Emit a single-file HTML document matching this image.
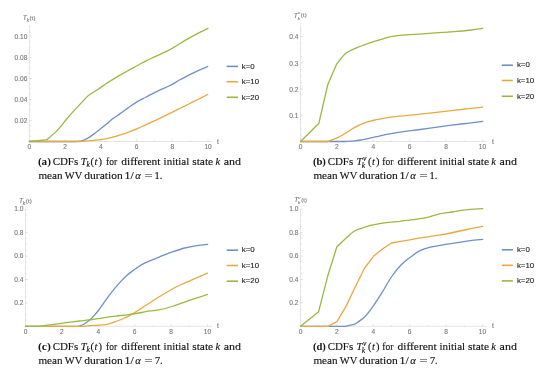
<!DOCTYPE html>
<html><head><meta charset="utf-8"><style>
html,body{margin:0;padding:0;background:#fff;}
svg{display:block;}
.ax{stroke:#d4d4d4;stroke-width:0.6;fill:none;}
.tk{stroke:#d4d4d4;stroke-width:0.6;}
.tl{font-family:"Liberation Sans",sans-serif;font-size:6.6px;fill:#7a7a7a;stroke:#7a7a7a;stroke-width:0.12px;}
.yl{font-family:"Liberation Sans",sans-serif;font-size:6.6px;fill:#7a7a7a;stroke:#7a7a7a;stroke-width:0.12px;}
.lt{font-family:"Liberation Sans",sans-serif;font-size:7.9px;fill:#222;stroke:#222;stroke-width:0.12px;}
.cv{fill:none;stroke-width:1.3;stroke-linejoin:round;stroke-linecap:round;}
.lg{stroke-width:1.6;}
.cp{font-family:"Liberation Serif",serif;font-size:10.5px;fill:#141414;stroke:#141414;stroke-width:0.14px;letter-spacing:0px;}
</style></head><body>
<svg width="550" height="372" viewBox="0 0 550 372">
<line x1="29.4" y1="25.5" x2="29.4" y2="141.5" class="ax"/>
<line x1="29.4" y1="141.5" x2="212" y2="141.5" class="ax"/>
<line x1="29.4" y1="141.5" x2="29.4" y2="139.3" class="tk"/>
<text x="29.4" y="148.7" class="tl" text-anchor="middle">0</text>
<line x1="47.27" y1="141.5" x2="47.27" y2="140.2" class="tk"/>
<line x1="65.14" y1="141.5" x2="65.14" y2="139.3" class="tk"/>
<text x="65.14" y="148.7" class="tl" text-anchor="middle">2</text>
<line x1="83.01" y1="141.5" x2="83.01" y2="140.2" class="tk"/>
<line x1="100.88" y1="141.5" x2="100.88" y2="139.3" class="tk"/>
<text x="100.88" y="148.7" class="tl" text-anchor="middle">4</text>
<line x1="118.75" y1="141.5" x2="118.75" y2="140.2" class="tk"/>
<line x1="136.62" y1="141.5" x2="136.62" y2="139.3" class="tk"/>
<text x="136.62" y="148.7" class="tl" text-anchor="middle">6</text>
<line x1="154.49" y1="141.5" x2="154.49" y2="140.2" class="tk"/>
<line x1="172.36" y1="141.5" x2="172.36" y2="139.3" class="tk"/>
<text x="172.36" y="148.7" class="tl" text-anchor="middle">8</text>
<line x1="190.23" y1="141.5" x2="190.23" y2="140.2" class="tk"/>
<line x1="208.1" y1="141.5" x2="208.1" y2="139.3" class="tk"/>
<text x="208.1" y="148.7" class="tl" text-anchor="middle">10</text>
<line x1="29.4" y1="120.5" x2="31.6" y2="120.5" class="tk"/>
<text x="27.4" y="123.2" class="tl" text-anchor="end">0.02</text>
<line x1="29.4" y1="99.5" x2="31.6" y2="99.5" class="tk"/>
<text x="27.4" y="102.2" class="tl" text-anchor="end">0.04</text>
<line x1="29.4" y1="78.5" x2="31.6" y2="78.5" class="tk"/>
<text x="27.4" y="81.2" class="tl" text-anchor="end">0.06</text>
<line x1="29.4" y1="57.5" x2="31.6" y2="57.5" class="tk"/>
<text x="27.4" y="60.2" class="tl" text-anchor="end">0.08</text>
<line x1="29.4" y1="36.5" x2="31.6" y2="36.5" class="tk"/>
<text x="27.4" y="39.2" class="tl" text-anchor="end">0.10</text>
<line x1="29.4" y1="136.25" x2="30.7" y2="136.25" class="tk"/>
<line x1="29.4" y1="131" x2="30.7" y2="131" class="tk"/>
<line x1="29.4" y1="125.75" x2="30.7" y2="125.75" class="tk"/>
<line x1="29.4" y1="120.5" x2="30.7" y2="120.5" class="tk"/>
<line x1="29.4" y1="115.25" x2="30.7" y2="115.25" class="tk"/>
<line x1="29.4" y1="110" x2="30.7" y2="110" class="tk"/>
<line x1="29.4" y1="104.75" x2="30.7" y2="104.75" class="tk"/>
<line x1="29.4" y1="99.5" x2="30.7" y2="99.5" class="tk"/>
<line x1="29.4" y1="94.25" x2="30.7" y2="94.25" class="tk"/>
<line x1="29.4" y1="89" x2="30.7" y2="89" class="tk"/>
<line x1="29.4" y1="83.75" x2="30.7" y2="83.75" class="tk"/>
<line x1="29.4" y1="78.5" x2="30.7" y2="78.5" class="tk"/>
<line x1="29.4" y1="73.25" x2="30.7" y2="73.25" class="tk"/>
<line x1="29.4" y1="68" x2="30.7" y2="68" class="tk"/>
<line x1="29.4" y1="62.75" x2="30.7" y2="62.75" class="tk"/>
<line x1="29.4" y1="57.5" x2="30.7" y2="57.5" class="tk"/>
<line x1="29.4" y1="52.25" x2="30.7" y2="52.25" class="tk"/>
<line x1="29.4" y1="47" x2="30.7" y2="47" class="tk"/>
<line x1="29.4" y1="41.75" x2="30.7" y2="41.75" class="tk"/>
<line x1="29.4" y1="36.5" x2="30.7" y2="36.5" class="tk"/>
<line x1="29.4" y1="31.25" x2="30.7" y2="31.25" class="tk"/>
<line x1="29.4" y1="26" x2="30.7" y2="26" class="tk"/>
<text x="217" y="143.5" class="tl">t</text>
<text x="22.8" y="20.2" class="yl"><tspan font-style="italic">T</tspan><tspan font-size="4.6" dy="1.6" dx="-0.2" font-style="italic">k</tspan><tspan dy="-1.6" dx="0.5" font-size="6.2" textLength="6.1" lengthAdjust="spacing">(t)</tspan></text>
<path d="M29.4,141.5 L76,141.5 C76.95,141.4 79.63,141.5 81.7,140.9 C83.77,140.3 86.15,139.23 88.4,137.9 C90.65,136.57 93.27,134.33 95.2,132.9 C97.13,131.47 98.12,130.77 100,129.3 C101.88,127.83 104.35,125.88 106.5,124.1 C108.65,122.32 110.75,120.27 112.9,118.6 C115.05,116.93 117.23,115.62 119.4,114.1 C121.57,112.58 124.05,110.82 125.9,109.5 C127.75,108.18 128.67,107.47 130.5,106.2 C132.33,104.93 134.75,103.2 136.9,101.9 C139.05,100.6 141.55,99.37 143.4,98.4 C145.25,97.43 146.07,97.1 148,96.1 C149.93,95.1 152.67,93.57 155,92.4 C157.33,91.23 159.67,90.17 162,89.1 C164.33,88.03 166.67,87.17 169,86 C171.33,84.83 174.17,83.13 176,82.1 C177.83,81.07 178.17,80.8 180,79.8 C181.83,78.8 184.67,77.3 187,76.1 C189.33,74.9 191.67,73.72 194,72.6 C196.33,71.48 198.72,70.42 201,69.4 C203.28,68.38 206.58,66.98 207.7,66.5" stroke="#6f90c8" class="cv"/>
<path d="M29.4,141.5 L80,141.5 C81.33,141.4 84.67,141.2 88,140.9 C91.33,140.6 96.18,140.25 100,139.7 C103.82,139.15 107.27,138.48 110.9,137.6 C114.53,136.72 118.95,135.28 121.8,134.4 C124.65,133.52 126.13,132.97 128,132.3 C129.87,131.63 131.33,131.07 133,130.4 C134.67,129.73 136.23,129.07 138,128.3 C139.77,127.53 141.6,126.7 143.6,125.8 C145.6,124.9 147.42,124.1 150,122.9 C152.58,121.7 156.07,120.05 159.1,118.6 C162.13,117.15 165.17,115.68 168.2,114.2 C171.23,112.72 174.3,111.18 177.3,109.7 C180.3,108.22 183.85,106.47 186.2,105.3 C188.55,104.13 189.68,103.55 191.4,102.7 C193.12,101.85 194.72,101.08 196.5,100.2 C198.28,99.32 200.22,98.37 202.1,97.4 C203.98,96.43 206.85,94.9 207.8,94.4" stroke="#e8a942" class="cv"/>
<path d="M29.4,141.5 C31.17,141.33 37.1,140.8 40,140.5 C42.9,140.2 45.67,139.83 46.8,139.7 C48.22,138.48 52.93,134.65 55.3,132.4 C57.67,130.15 59.12,128.43 61,126.2 C62.88,123.97 64.73,121.27 66.6,119 C68.47,116.73 69.63,115.42 72.2,112.6 C74.77,109.78 79.2,105.03 82,102.1 C84.8,99.17 86.32,97.13 89,95 C91.68,92.87 95.25,91.18 98.1,89.3 C100.95,87.42 103.42,85.48 106.1,83.7 C108.78,81.92 111.5,80.23 114.2,78.6 C116.9,76.97 119.62,75.43 122.3,73.9 C124.98,72.37 127.62,70.88 130.3,69.4 C132.98,67.92 135.7,66.47 138.4,65 C141.1,63.53 143.82,61.95 146.5,60.6 C149.18,59.25 151.82,58.13 154.5,56.9 C157.18,55.67 159.77,54.55 162.6,53.2 C165.43,51.85 167.75,50.93 171.5,48.8 C175.25,46.67 180.78,42.93 185.1,40.4 C189.42,37.87 193.58,35.6 197.4,33.6 C201.22,31.6 206.23,29.27 208,28.4" stroke="#99b943" class="cv"/>
<line x1="226.7" y1="66.4" x2="238.1" y2="66.4" stroke="#6f90c8" class="lg"/>
<text x="241.8" y="68.6" class="lt">k=0</text>
<line x1="226.7" y1="81.7" x2="238.1" y2="81.7" stroke="#e8a942" class="lg"/>
<text x="241.8" y="83.9" class="lt">k=10</text>
<line x1="226.7" y1="97.3" x2="238.1" y2="97.3" stroke="#99b943" class="lg"/>
<text x="241.8" y="99.5" class="lt">k=20</text>
<text y="164.8" class="cp"><tspan x="37.9" textLength="13" lengthAdjust="spacingAndGlyphs" font-weight="bold" stroke-width="0">(a)</tspan><tspan x="52.7" textLength="25.5" lengthAdjust="spacingAndGlyphs">CDFs</tspan><tspan x="80.8" font-style="italic">T</tspan><tspan x="86.4" dy="2.4" font-size="7.8" font-style="italic">k</tspan><tspan x="90.5" dy="-2.4">(</tspan><tspan x="94.6" font-style="italic">t</tspan><tspan x="98.5">)</tspan><tspan x="106.1" textLength="11.1" lengthAdjust="spacingAndGlyphs">for</tspan><tspan x="121.3" textLength="39.2" lengthAdjust="spacingAndGlyphs">different</tspan><tspan x="163.6" textLength="25.7" lengthAdjust="spacingAndGlyphs">initial</tspan><tspan x="192.2" textLength="21" lengthAdjust="spacingAndGlyphs">state</tspan><tspan x="215.4" font-style="italic">k</tspan><tspan x="223.8" textLength="17.3" lengthAdjust="spacingAndGlyphs">and</tspan></text>
<text y="178.7" class="cp"><tspan x="38.4" textLength="24.2" lengthAdjust="spacingAndGlyphs">mean</tspan><tspan x="64.8" textLength="17.4" lengthAdjust="spacingAndGlyphs">WV</tspan><tspan x="84.3" textLength="38.4" lengthAdjust="spacingAndGlyphs">duration</tspan><tspan x="124.6" textLength="9.2" lengthAdjust="spacingAndGlyphs">1/</tspan><tspan x="135.3" font-style="italic">α</tspan><tspan x="144.6" textLength="8.1" lengthAdjust="spacingAndGlyphs">=</tspan><tspan x="154.6" textLength="7.8" lengthAdjust="spacingAndGlyphs">1.</tspan></text>
<line x1="300.5" y1="25.5" x2="300.5" y2="141.5" class="ax"/>
<line x1="300.5" y1="141.5" x2="487" y2="141.5" class="ax"/>
<line x1="300.5" y1="141.5" x2="300.5" y2="139.3" class="tk"/>
<text x="300.5" y="148.7" class="tl" text-anchor="middle">0</text>
<line x1="318.7" y1="141.5" x2="318.7" y2="140.2" class="tk"/>
<line x1="336.9" y1="141.5" x2="336.9" y2="139.3" class="tk"/>
<text x="336.9" y="148.7" class="tl" text-anchor="middle">2</text>
<line x1="355.1" y1="141.5" x2="355.1" y2="140.2" class="tk"/>
<line x1="373.3" y1="141.5" x2="373.3" y2="139.3" class="tk"/>
<text x="373.3" y="148.7" class="tl" text-anchor="middle">4</text>
<line x1="391.5" y1="141.5" x2="391.5" y2="140.2" class="tk"/>
<line x1="409.7" y1="141.5" x2="409.7" y2="139.3" class="tk"/>
<text x="409.7" y="148.7" class="tl" text-anchor="middle">6</text>
<line x1="427.9" y1="141.5" x2="427.9" y2="140.2" class="tk"/>
<line x1="446.1" y1="141.5" x2="446.1" y2="139.3" class="tk"/>
<text x="446.1" y="148.7" class="tl" text-anchor="middle">8</text>
<line x1="464.3" y1="141.5" x2="464.3" y2="140.2" class="tk"/>
<line x1="482.5" y1="141.5" x2="482.5" y2="139.3" class="tk"/>
<text x="482.5" y="148.7" class="tl" text-anchor="middle">10</text>
<line x1="300.5" y1="115.3" x2="302.7" y2="115.3" class="tk"/>
<text x="298.5" y="118" class="tl" text-anchor="end">0.1</text>
<line x1="300.5" y1="89.1" x2="302.7" y2="89.1" class="tk"/>
<text x="298.5" y="91.8" class="tl" text-anchor="end">0.2</text>
<line x1="300.5" y1="62.9" x2="302.7" y2="62.9" class="tk"/>
<text x="298.5" y="65.6" class="tl" text-anchor="end">0.3</text>
<line x1="300.5" y1="36.7" x2="302.7" y2="36.7" class="tk"/>
<text x="298.5" y="39.4" class="tl" text-anchor="end">0.4</text>
<line x1="300.5" y1="134.95" x2="301.8" y2="134.95" class="tk"/>
<line x1="300.5" y1="128.4" x2="301.8" y2="128.4" class="tk"/>
<line x1="300.5" y1="121.85" x2="301.8" y2="121.85" class="tk"/>
<line x1="300.5" y1="115.3" x2="301.8" y2="115.3" class="tk"/>
<line x1="300.5" y1="108.75" x2="301.8" y2="108.75" class="tk"/>
<line x1="300.5" y1="102.2" x2="301.8" y2="102.2" class="tk"/>
<line x1="300.5" y1="95.65" x2="301.8" y2="95.65" class="tk"/>
<line x1="300.5" y1="89.1" x2="301.8" y2="89.1" class="tk"/>
<line x1="300.5" y1="82.55" x2="301.8" y2="82.55" class="tk"/>
<line x1="300.5" y1="76" x2="301.8" y2="76" class="tk"/>
<line x1="300.5" y1="69.45" x2="301.8" y2="69.45" class="tk"/>
<line x1="300.5" y1="62.9" x2="301.8" y2="62.9" class="tk"/>
<line x1="300.5" y1="56.35" x2="301.8" y2="56.35" class="tk"/>
<line x1="300.5" y1="49.8" x2="301.8" y2="49.8" class="tk"/>
<line x1="300.5" y1="43.25" x2="301.8" y2="43.25" class="tk"/>
<line x1="300.5" y1="36.7" x2="301.8" y2="36.7" class="tk"/>
<line x1="300.5" y1="30.15" x2="301.8" y2="30.15" class="tk"/>
<text x="492" y="143.5" class="tl">t</text>
<text x="293.8" y="17.6" class="yl"><tspan font-style="italic">T</tspan><tspan font-size="4.4" dy="-3.3" dx="0.1" font-style="italic">v</tspan><tspan font-size="4.4" dy="5.3" dx="-2.5" font-style="italic">k</tspan><tspan dy="-2.3" dx="0.9" font-size="5.9" textLength="5.9" lengthAdjust="spacing">(t)</tspan></text>
<path d="M300.6,141.5 L345,141.5 C346.58,141.4 351.7,141.18 354.5,140.9 C357.3,140.62 359.37,140.22 361.8,139.8 C364.23,139.38 366.67,138.92 369.1,138.4 C371.53,137.88 373.98,137.25 376.4,136.7 C378.82,136.15 379.97,135.82 383.6,135.1 C387.23,134.38 392.13,133.33 398.2,132.4 C404.27,131.47 412.92,130.47 420,129.5 C427.08,128.53 433.13,127.6 440.7,126.6 C448.27,125.6 458.4,124.38 465.4,123.5 C472.4,122.62 479.82,121.67 482.7,121.3" stroke="#6f90c8" class="cv"/>
<path d="M300.6,141.5 L327.8,141.5 C328.85,141.1 332.3,139.82 334.1,139.1 C335.9,138.38 337.08,137.95 338.6,137.2 C340.12,136.45 341.68,135.5 343.2,134.6 C344.72,133.7 346.18,132.78 347.7,131.8 C349.22,130.82 350.78,129.62 352.3,128.7 C353.82,127.78 355.28,127.07 356.8,126.3 C358.32,125.53 359.88,124.75 361.4,124.1 C362.92,123.45 364.38,122.9 365.9,122.4 C367.42,121.9 368.98,121.5 370.5,121.1 C372.02,120.7 373.3,120.38 375,120 C376.7,119.62 377.68,119.32 380.7,118.8 C383.72,118.28 388.57,117.48 393.1,116.9 C397.63,116.32 404.08,115.67 407.9,115.3 C411.72,114.93 410.53,115.28 416,114.7 C421.47,114.12 432.47,112.75 440.7,111.8 C448.93,110.85 458.4,109.78 465.4,109 C472.4,108.22 479.82,107.42 482.7,107.1" stroke="#e8a942" class="cv"/>
<path d="M300.6,141.5 L318.9,123.2 L327.8,84.5 L336.8,63.8 C338.35,62.02 342.83,55.77 346.1,53.1 C349.37,50.43 352.57,49.47 356.4,47.8 C360.23,46.13 365.05,44.47 369.1,43.1 C373.15,41.73 377.07,40.67 380.7,39.6 C384.33,38.53 386.77,37.5 390.9,36.7 C395.03,35.9 400.65,35.23 405.5,34.8 C410.35,34.37 415.62,34.37 420,34.1 C424.38,33.83 426.2,33.6 431.8,33.2 C437.4,32.8 447.05,32.23 453.6,31.7 C460.15,31.17 466.25,30.55 471.1,30 C475.95,29.45 480.77,28.67 482.7,28.4" stroke="#99b943" class="cv"/>
<line x1="501.8" y1="65.2" x2="512.9" y2="65.2" stroke="#6f90c8" class="lg"/>
<text x="516.9" y="67.4" class="lt">k=0</text>
<line x1="501.8" y1="80.5" x2="512.9" y2="80.5" stroke="#e8a942" class="lg"/>
<text x="516.9" y="82.7" class="lt">k=10</text>
<line x1="501.8" y1="96.3" x2="512.9" y2="96.3" stroke="#99b943" class="lg"/>
<text x="516.9" y="98.5" class="lt">k=20</text>
<text y="164.8" class="cp"><tspan x="312.9" textLength="13" lengthAdjust="spacingAndGlyphs" font-weight="bold" stroke-width="0">(b)</tspan><tspan x="327.7" textLength="25.5" lengthAdjust="spacingAndGlyphs">CDFs</tspan><tspan x="356.4" font-style="italic">T</tspan><tspan x="363" dy="-3.5" font-size="7.6" font-style="italic">v</tspan><tspan x="361.7" dy="6.7" font-size="7.6" font-style="italic">k</tspan><tspan x="368" dy="-3.2">(</tspan><tspan x="372.1" font-style="italic">t</tspan><tspan x="376">)</tspan><tspan x="382.3" textLength="11.1" lengthAdjust="spacingAndGlyphs">for</tspan><tspan x="397.5" textLength="39.2" lengthAdjust="spacingAndGlyphs">different</tspan><tspan x="439.4" textLength="25.7" lengthAdjust="spacingAndGlyphs">initial</tspan><tspan x="468" textLength="21" lengthAdjust="spacingAndGlyphs">state</tspan><tspan x="491.2" font-style="italic">k</tspan><tspan x="499.6" textLength="17.3" lengthAdjust="spacingAndGlyphs">and</tspan></text>
<text y="178.7" class="cp"><tspan x="313.4" textLength="24.2" lengthAdjust="spacingAndGlyphs">mean</tspan><tspan x="339.8" textLength="17.4" lengthAdjust="spacingAndGlyphs">WV</tspan><tspan x="359.3" textLength="38.4" lengthAdjust="spacingAndGlyphs">duration</tspan><tspan x="399.6" textLength="9.2" lengthAdjust="spacingAndGlyphs">1/</tspan><tspan x="410.3" font-style="italic">α</tspan><tspan x="419.6" textLength="8.1" lengthAdjust="spacingAndGlyphs">=</tspan><tspan x="429.6" textLength="7.8" lengthAdjust="spacingAndGlyphs">1.</tspan></text>
<line x1="25.5" y1="209" x2="25.5" y2="326.3" class="ax"/>
<line x1="25.5" y1="326.3" x2="212" y2="326.3" class="ax"/>
<line x1="25.5" y1="326.3" x2="25.5" y2="324.1" class="tk"/>
<text x="25.5" y="333.5" class="tl" text-anchor="middle">0</text>
<line x1="43.7" y1="326.3" x2="43.7" y2="325" class="tk"/>
<line x1="61.9" y1="326.3" x2="61.9" y2="324.1" class="tk"/>
<text x="61.9" y="333.5" class="tl" text-anchor="middle">2</text>
<line x1="80.1" y1="326.3" x2="80.1" y2="325" class="tk"/>
<line x1="98.3" y1="326.3" x2="98.3" y2="324.1" class="tk"/>
<text x="98.3" y="333.5" class="tl" text-anchor="middle">4</text>
<line x1="116.5" y1="326.3" x2="116.5" y2="325" class="tk"/>
<line x1="134.7" y1="326.3" x2="134.7" y2="324.1" class="tk"/>
<text x="134.7" y="333.5" class="tl" text-anchor="middle">6</text>
<line x1="152.9" y1="326.3" x2="152.9" y2="325" class="tk"/>
<line x1="171.1" y1="326.3" x2="171.1" y2="324.1" class="tk"/>
<text x="171.1" y="333.5" class="tl" text-anchor="middle">8</text>
<line x1="189.3" y1="326.3" x2="189.3" y2="325" class="tk"/>
<line x1="207.5" y1="326.3" x2="207.5" y2="324.1" class="tk"/>
<text x="207.5" y="333.5" class="tl" text-anchor="middle">10</text>
<line x1="25.5" y1="302.9" x2="27.7" y2="302.9" class="tk"/>
<text x="23.5" y="305" class="tl" text-anchor="end">0.2</text>
<line x1="25.5" y1="279.5" x2="27.7" y2="279.5" class="tk"/>
<text x="23.5" y="281.6" class="tl" text-anchor="end">0.4</text>
<line x1="25.5" y1="256.1" x2="27.7" y2="256.1" class="tk"/>
<text x="23.5" y="258.2" class="tl" text-anchor="end">0.6</text>
<line x1="25.5" y1="232.7" x2="27.7" y2="232.7" class="tk"/>
<text x="23.5" y="234.8" class="tl" text-anchor="end">0.8</text>
<line x1="25.5" y1="209.3" x2="27.7" y2="209.3" class="tk"/>
<text x="23.5" y="211.4" class="tl" text-anchor="end">1.0</text>
<line x1="25.5" y1="320.45" x2="26.8" y2="320.45" class="tk"/>
<line x1="25.5" y1="314.6" x2="26.8" y2="314.6" class="tk"/>
<line x1="25.5" y1="308.75" x2="26.8" y2="308.75" class="tk"/>
<line x1="25.5" y1="302.9" x2="26.8" y2="302.9" class="tk"/>
<line x1="25.5" y1="297.05" x2="26.8" y2="297.05" class="tk"/>
<line x1="25.5" y1="291.2" x2="26.8" y2="291.2" class="tk"/>
<line x1="25.5" y1="285.35" x2="26.8" y2="285.35" class="tk"/>
<line x1="25.5" y1="279.5" x2="26.8" y2="279.5" class="tk"/>
<line x1="25.5" y1="273.65" x2="26.8" y2="273.65" class="tk"/>
<line x1="25.5" y1="267.8" x2="26.8" y2="267.8" class="tk"/>
<line x1="25.5" y1="261.95" x2="26.8" y2="261.95" class="tk"/>
<line x1="25.5" y1="256.1" x2="26.8" y2="256.1" class="tk"/>
<line x1="25.5" y1="250.25" x2="26.8" y2="250.25" class="tk"/>
<line x1="25.5" y1="244.4" x2="26.8" y2="244.4" class="tk"/>
<line x1="25.5" y1="238.55" x2="26.8" y2="238.55" class="tk"/>
<line x1="25.5" y1="232.7" x2="26.8" y2="232.7" class="tk"/>
<line x1="25.5" y1="226.85" x2="26.8" y2="226.85" class="tk"/>
<line x1="25.5" y1="221" x2="26.8" y2="221" class="tk"/>
<line x1="25.5" y1="215.15" x2="26.8" y2="215.15" class="tk"/>
<text x="217" y="328.3" class="tl">t</text>
<text x="19" y="203.4" class="yl"><tspan font-style="italic">T</tspan><tspan font-size="4.6" dy="1.6" dx="-0.2" font-style="italic">k</tspan><tspan dy="-1.6" dx="0.5" font-size="6.2" textLength="6.1" lengthAdjust="spacing">(t)</tspan></text>
<path d="M25.5,326.3 L79,326.3 C79.8,325.95 82.12,325.15 83.8,324.2 C85.48,323.25 87.23,322.2 89.1,320.6 C90.97,319 93.38,316.37 95,314.6 C96.62,312.83 97.53,311.67 98.8,310 C100.07,308.33 101.05,306.78 102.6,304.6 C104.15,302.42 106.15,299.52 108.1,296.9 C110.05,294.28 112.22,291.45 114.3,288.9 C116.38,286.35 118.52,283.83 120.6,281.6 C122.68,279.37 124.73,277.33 126.8,275.5 C128.87,273.67 131.32,271.87 133,270.6 C134.68,269.33 135.13,269.07 136.9,267.9 C138.67,266.73 141.35,264.82 143.6,263.6 C145.85,262.38 148.15,261.55 150.4,260.6 C152.65,259.65 154.87,258.8 157.1,257.9 C159.33,257 161.25,256.2 163.8,255.2 C166.35,254.2 168.92,253.1 172.4,251.9 C175.88,250.7 180.58,249.05 184.7,248 C188.82,246.95 193.28,246.2 197.1,245.6 C200.92,245 205.85,244.6 207.6,244.4" stroke="#6f90c8" class="cv"/>
<path d="M25.5,326.3 L85,326.3 C85.83,326.2 87.02,325.93 90,325.7 C92.98,325.47 99.67,325.25 102.9,324.9 C106.13,324.55 107.25,324.17 109.4,323.6 C111.55,323.03 113.65,322.27 115.8,321.5 C117.95,320.73 120.15,319.9 122.3,319 C124.45,318.1 126.55,317.22 128.7,316.1 C130.85,314.98 133.05,313.63 135.2,312.3 C137.35,310.97 139.47,309.48 141.6,308.1 C143.73,306.72 145.2,305.8 148,304 C150.8,302.2 154.42,299.77 158.4,297.3 C162.38,294.83 168.08,291.33 171.9,289.2 C175.72,287.07 177.95,286.07 181.3,284.5 C184.65,282.93 187.63,281.7 192,279.8 C196.37,277.9 204.92,274.22 207.5,273.1" stroke="#e8a942" class="cv"/>
<path d="M25.5,326.3 C27.68,326.3 35.27,326.43 38.6,326.3 C41.93,326.17 43.22,325.78 45.5,325.5 C47.78,325.22 48.9,325.07 52.3,324.6 C55.7,324.13 61.35,323.3 65.9,322.7 C70.45,322.1 75.73,321.47 79.6,321 C83.47,320.53 85.22,320.43 89.1,319.9 C92.98,319.37 98.45,318.43 102.9,317.8 C107.35,317.17 111.5,316.63 115.8,316.1 C120.1,315.57 124.4,315.2 128.7,314.6 C133,314 138.05,313.12 141.6,312.5 C145.15,311.88 147.2,311.33 150,310.9 C152.8,310.47 154.75,310.63 158.4,309.9 C162.05,309.17 167.42,307.85 171.9,306.5 C176.38,305.15 180.82,303.33 185.3,301.8 C189.78,300.27 195.1,298.55 198.8,297.3 C202.5,296.05 206.05,294.8 207.5,294.3" stroke="#99b943" class="cv"/>
<line x1="226.7" y1="250.2" x2="238.1" y2="250.2" stroke="#6f90c8" class="lg"/>
<text x="241.8" y="252.4" class="lt">k=0</text>
<line x1="226.7" y1="265.5" x2="238.1" y2="265.5" stroke="#e8a942" class="lg"/>
<text x="241.8" y="267.7" class="lt">k=10</text>
<line x1="226.7" y1="281.2" x2="238.1" y2="281.2" stroke="#99b943" class="lg"/>
<text x="241.8" y="283.4" class="lt">k=20</text>
<text y="349.8" class="cp"><tspan x="37.9" textLength="13" lengthAdjust="spacingAndGlyphs" font-weight="bold" stroke-width="0">(c)</tspan><tspan x="52.7" textLength="25.5" lengthAdjust="spacingAndGlyphs">CDFs</tspan><tspan x="80.8" font-style="italic">T</tspan><tspan x="86.4" dy="2.4" font-size="7.8" font-style="italic">k</tspan><tspan x="90.5" dy="-2.4">(</tspan><tspan x="94.6" font-style="italic">t</tspan><tspan x="98.5">)</tspan><tspan x="106.1" textLength="11.1" lengthAdjust="spacingAndGlyphs">for</tspan><tspan x="121.3" textLength="39.2" lengthAdjust="spacingAndGlyphs">different</tspan><tspan x="163.6" textLength="25.7" lengthAdjust="spacingAndGlyphs">initial</tspan><tspan x="192.2" textLength="21" lengthAdjust="spacingAndGlyphs">state</tspan><tspan x="215.4" font-style="italic">k</tspan><tspan x="223.8" textLength="17.3" lengthAdjust="spacingAndGlyphs">and</tspan></text>
<text y="363.7" class="cp"><tspan x="38.4" textLength="24.2" lengthAdjust="spacingAndGlyphs">mean</tspan><tspan x="64.8" textLength="17.4" lengthAdjust="spacingAndGlyphs">WV</tspan><tspan x="84.3" textLength="38.4" lengthAdjust="spacingAndGlyphs">duration</tspan><tspan x="124.6" textLength="9.2" lengthAdjust="spacingAndGlyphs">1/</tspan><tspan x="135.3" font-style="italic">α</tspan><tspan x="144.6" textLength="8.1" lengthAdjust="spacingAndGlyphs">=</tspan><tspan x="155" textLength="7.6" lengthAdjust="spacingAndGlyphs">7.</tspan></text>
<line x1="300.5" y1="209" x2="300.5" y2="326.3" class="ax"/>
<line x1="300.5" y1="326.3" x2="487" y2="326.3" class="ax"/>
<line x1="300.5" y1="326.3" x2="300.5" y2="324.1" class="tk"/>
<text x="300.5" y="333.5" class="tl" text-anchor="middle">0</text>
<line x1="318.7" y1="326.3" x2="318.7" y2="325" class="tk"/>
<line x1="336.9" y1="326.3" x2="336.9" y2="324.1" class="tk"/>
<text x="336.9" y="333.5" class="tl" text-anchor="middle">2</text>
<line x1="355.1" y1="326.3" x2="355.1" y2="325" class="tk"/>
<line x1="373.3" y1="326.3" x2="373.3" y2="324.1" class="tk"/>
<text x="373.3" y="333.5" class="tl" text-anchor="middle">4</text>
<line x1="391.5" y1="326.3" x2="391.5" y2="325" class="tk"/>
<line x1="409.7" y1="326.3" x2="409.7" y2="324.1" class="tk"/>
<text x="409.7" y="333.5" class="tl" text-anchor="middle">6</text>
<line x1="427.9" y1="326.3" x2="427.9" y2="325" class="tk"/>
<line x1="446.1" y1="326.3" x2="446.1" y2="324.1" class="tk"/>
<text x="446.1" y="333.5" class="tl" text-anchor="middle">8</text>
<line x1="464.3" y1="326.3" x2="464.3" y2="325" class="tk"/>
<line x1="482.5" y1="326.3" x2="482.5" y2="324.1" class="tk"/>
<text x="482.5" y="333.5" class="tl" text-anchor="middle">10</text>
<line x1="300.5" y1="302.9" x2="302.7" y2="302.9" class="tk"/>
<text x="298.5" y="305" class="tl" text-anchor="end">0.2</text>
<line x1="300.5" y1="279.5" x2="302.7" y2="279.5" class="tk"/>
<text x="298.5" y="281.6" class="tl" text-anchor="end">0.4</text>
<line x1="300.5" y1="256.1" x2="302.7" y2="256.1" class="tk"/>
<text x="298.5" y="258.2" class="tl" text-anchor="end">0.6</text>
<line x1="300.5" y1="232.7" x2="302.7" y2="232.7" class="tk"/>
<text x="298.5" y="234.8" class="tl" text-anchor="end">0.8</text>
<line x1="300.5" y1="209.3" x2="302.7" y2="209.3" class="tk"/>
<text x="298.5" y="211.4" class="tl" text-anchor="end">1.0</text>
<line x1="300.5" y1="320.45" x2="301.8" y2="320.45" class="tk"/>
<line x1="300.5" y1="314.6" x2="301.8" y2="314.6" class="tk"/>
<line x1="300.5" y1="308.75" x2="301.8" y2="308.75" class="tk"/>
<line x1="300.5" y1="302.9" x2="301.8" y2="302.9" class="tk"/>
<line x1="300.5" y1="297.05" x2="301.8" y2="297.05" class="tk"/>
<line x1="300.5" y1="291.2" x2="301.8" y2="291.2" class="tk"/>
<line x1="300.5" y1="285.35" x2="301.8" y2="285.35" class="tk"/>
<line x1="300.5" y1="279.5" x2="301.8" y2="279.5" class="tk"/>
<line x1="300.5" y1="273.65" x2="301.8" y2="273.65" class="tk"/>
<line x1="300.5" y1="267.8" x2="301.8" y2="267.8" class="tk"/>
<line x1="300.5" y1="261.95" x2="301.8" y2="261.95" class="tk"/>
<line x1="300.5" y1="256.1" x2="301.8" y2="256.1" class="tk"/>
<line x1="300.5" y1="250.25" x2="301.8" y2="250.25" class="tk"/>
<line x1="300.5" y1="244.4" x2="301.8" y2="244.4" class="tk"/>
<line x1="300.5" y1="238.55" x2="301.8" y2="238.55" class="tk"/>
<line x1="300.5" y1="232.7" x2="301.8" y2="232.7" class="tk"/>
<line x1="300.5" y1="226.85" x2="301.8" y2="226.85" class="tk"/>
<line x1="300.5" y1="221" x2="301.8" y2="221" class="tk"/>
<line x1="300.5" y1="215.15" x2="301.8" y2="215.15" class="tk"/>
<text x="492" y="328.3" class="tl">t</text>
<text x="294.2" y="202.4" class="yl"><tspan font-style="italic">T</tspan><tspan font-size="4.4" dy="-3.3" dx="0.1" font-style="italic">v</tspan><tspan font-size="4.4" dy="5.3" dx="-2.5" font-style="italic">k</tspan><tspan dy="-2.3" dx="0.9" font-size="5.9" textLength="5.9" lengthAdjust="spacing">(t)</tspan></text>
<path d="M300.6,326.3 L345.4,326.3 L354.8,324.2 C356.42,323 361.4,320.07 364.5,317 C367.6,313.93 370.38,310.02 373.4,305.8 C376.42,301.58 379.6,296.5 382.6,291.7 C385.6,286.9 388.33,281.45 391.4,277 C394.47,272.55 397.73,268.38 401,265 C404.27,261.62 407.92,259.05 411,256.7 C414.08,254.35 416.4,252.47 419.5,250.9 C422.6,249.33 425,248.42 429.6,247.3 C434.2,246.18 442.22,245.02 447.1,244.2 C451.98,243.38 455.02,242.98 458.9,242.4 C462.78,241.82 466.45,241.2 470.4,240.7 C474.35,240.2 480.57,239.62 482.6,239.4" stroke="#6f90c8" class="cv"/>
<path d="M300.6,326.3 L327.8,326.3 L336.9,321.6 L346,306.4 L355.2,287 L364.3,268.5 L373.5,256.3 L382.4,249 L391.5,243 L400.6,241.3 L409.7,239.9 L418.8,238.2 L427.9,236.8 L437,235.3 L446.1,234 L455.2,232 L464.3,230 L473.4,228.2 L482.6,226.3" stroke="#e8a942" class="cv"/>
<path d="M300.6,326.3 L318.6,311.7 L327.8,275.8 L336.8,247 C338.32,245.53 342.9,240.9 345.9,238.2 C348.9,235.5 351.67,232.65 354.8,230.8 C357.93,228.95 360.98,228.2 364.7,227.1 C368.42,226 372.57,225.03 377.1,224.2 C381.63,223.37 388.08,222.58 391.9,222.1 C395.72,221.62 396.47,221.7 400,221.3 C403.53,220.9 408.73,220.32 413.1,219.7 C417.47,219.08 422.12,218.5 426.2,217.6 C430.28,216.7 433.23,215.23 437.6,214.3 C441.97,213.37 447.75,212.73 452.4,212 C457.05,211.27 460.45,210.47 465.5,209.9 C470.55,209.33 479.83,208.82 482.7,208.6" stroke="#99b943" class="cv"/>
<line x1="501.8" y1="249.8" x2="512.9" y2="249.8" stroke="#6f90c8" class="lg"/>
<text x="516.9" y="252" class="lt">k=0</text>
<line x1="501.8" y1="265.3" x2="512.9" y2="265.3" stroke="#e8a942" class="lg"/>
<text x="516.9" y="267.5" class="lt">k=10</text>
<line x1="501.8" y1="280.9" x2="512.9" y2="280.9" stroke="#99b943" class="lg"/>
<text x="516.9" y="283.1" class="lt">k=20</text>
<text y="349.8" class="cp"><tspan x="312.9" textLength="13" lengthAdjust="spacingAndGlyphs" font-weight="bold" stroke-width="0">(d)</tspan><tspan x="327.7" textLength="25.5" lengthAdjust="spacingAndGlyphs">CDFs</tspan><tspan x="356.4" font-style="italic">T</tspan><tspan x="363" dy="-3.5" font-size="7.6" font-style="italic">v</tspan><tspan x="361.7" dy="6.7" font-size="7.6" font-style="italic">k</tspan><tspan x="368" dy="-3.2">(</tspan><tspan x="372.1" font-style="italic">t</tspan><tspan x="376">)</tspan><tspan x="382.3" textLength="11.1" lengthAdjust="spacingAndGlyphs">for</tspan><tspan x="397.5" textLength="39.2" lengthAdjust="spacingAndGlyphs">different</tspan><tspan x="439.4" textLength="25.7" lengthAdjust="spacingAndGlyphs">initial</tspan><tspan x="468" textLength="21" lengthAdjust="spacingAndGlyphs">state</tspan><tspan x="491.2" font-style="italic">k</tspan><tspan x="499.6" textLength="17.3" lengthAdjust="spacingAndGlyphs">and</tspan></text>
<text y="363.7" class="cp"><tspan x="313.4" textLength="24.2" lengthAdjust="spacingAndGlyphs">mean</tspan><tspan x="339.8" textLength="17.4" lengthAdjust="spacingAndGlyphs">WV</tspan><tspan x="359.3" textLength="38.4" lengthAdjust="spacingAndGlyphs">duration</tspan><tspan x="399.6" textLength="9.2" lengthAdjust="spacingAndGlyphs">1/</tspan><tspan x="410.3" font-style="italic">α</tspan><tspan x="419.6" textLength="8.1" lengthAdjust="spacingAndGlyphs">=</tspan><tspan x="430" textLength="7.6" lengthAdjust="spacingAndGlyphs">7.</tspan></text>
</svg>
</body></html>
